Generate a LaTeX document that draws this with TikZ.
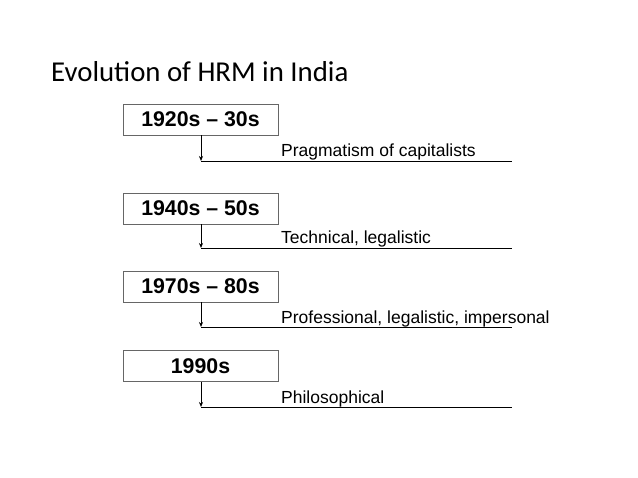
\documentclass[tikz,border=0pt]{standalone}
\usepackage{fontspec}
\setmainfont{Liberation Sans}
\newfontfamily\titlefont{Carlito}
\usetikzlibrary{arrows.meta}
\begin{document}
\begin{tikzpicture}[x=1pt,y=-1pt,
  erabox/.style={draw=black!60, line width=0.8pt, minimum width=155pt, minimum height=31pt, inner sep=0pt, font=\fontsize{21.3}{24}\selectfont\bfseries},
  lbl/.style={anchor=base west, inner sep=0pt, font=\fontsize{17.5}{20}\selectfont},
  conn/.style={line width=0.7pt, -{Stealth[length=5pt,width=4pt]}},
  baseline/.style={line width=0.7pt}]
\useasboundingbox (0,0) rectangle (638,478);
\node[anchor=west, inner sep=0pt, font=\titlefont\fontsize{28.8}{34}\selectfont] (title) at (51,72) {Evolution of HRM in India};

\node[erabox] (b1) at (200.5,119.5) {1920s -- 30s};
\node[erabox] (b2) at (200.5,208.5) {1940s -- 50s};
\node[erabox] (b3) at (200.5,286.5) {1970s -- 80s};
\node[erabox] (b4) at (200.5,366) {1990s};

\coordinate (a1) at (201,161); \coordinate (e1) at (512,161);
\coordinate (a2) at (201,248); \coordinate (e2) at (512,248);
\coordinate (a3) at (201,327); \coordinate (e3) at (512,327);
\coordinate (a4) at (201,407); \coordinate (e4) at (512,407);

\draw[conn] (b1.south -| a1) -- (a1);
\draw[conn] (b2.south -| a2) -- (a2);
\draw[conn] (b3.south -| a3) -- (a3);
\draw[conn] (b4.south -| a4) -- (a4);
\draw[baseline] (a1) -- (e1);
\draw[baseline] (a2) -- (e2);
\draw[baseline] (a3) -- (e3);
\draw[baseline] (a4) -- (e4);

\node[lbl] (l1) at (281,157) {Pragmatism of capitalists};
\node[lbl] (l2) at (281,244) {Technical, legalistic};
\node[lbl] (l3) at (281,324) {Professional, legalistic, impersonal};
\node[lbl] (l4) at (281,404) {Philosophical};
\end{tikzpicture}
\end{document}
